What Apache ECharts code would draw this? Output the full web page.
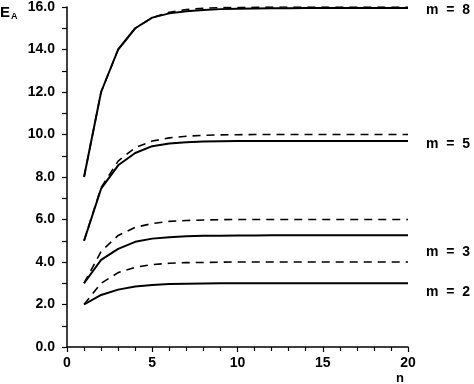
<!DOCTYPE html>
<html><head><meta charset="utf-8">
<script src="https://cdn.jsdelivr.net/npm/echarts@6/dist/echarts.min.js"></script>
<style>html,body{margin:0;padding:0;background:#fff}#c{width:474px;height:384px}</style>
</head><body><div id="c"></div>
<script>
const n = [1,2,3,4,5,6,7,8,9,10,11,12,13,14,15,16,17,18,19,20];
const m8Solid  = [8,12,14,15,15.5,15.7,15.8,15.86,15.9,15.92,15.93,15.94,15.94,15.95,15.95,15.95,15.95,15.95,15.95,15.95];
const m8Dashed = [8,12,14,15,15.5,15.75,15.88,15.94,15.97,15.98,15.99,16,16,16,16,16,16,16,16,16];
const m5Solid  = [5,7.45,8.55,9.13,9.45,9.58,9.64,9.67,9.68,9.69,9.7,9.7,9.7,9.7,9.7,9.7,9.7,9.7,9.7,9.7];
const m5Dashed = [5,7.5,8.75,9.38,9.69,9.84,9.92,9.96,9.98,9.99,10,10,10,10,10,10,10,10,10,10];
const m3Solid  = [3,4.1,4.62,4.95,5.1,5.17,5.21,5.23,5.24,5.25,5.25,5.26,5.26,5.26,5.26,5.26,5.26,5.26,5.26,5.26];
const m3Dashed = [3,4.5,5.25,5.63,5.81,5.91,5.95,5.98,5.99,6,6,6,6,6,6,6,6,6,6,6];
const m2Solid  = [2,2.45,2.7,2.85,2.92,2.96,2.98,2.99,3,3,3,3,3,3,3,3,3,3,3,3];
const m2Dashed = [2,3,3.5,3.75,3.88,3.94,3.97,3.98,3.99,4,4,4,4,4,4,4,4,4,4,4];
const labels = ['m  =  8','m  =  5','m  =  3','m  =  2'];

const font = 'Liberation Sans';
function pairs(v){ return n.map((x,i)=>[x,v[i]]); }
function solid(v, lab, dy){
  return {type:'line', data:pairs(v), symbol:'none', smooth:false,
    lineStyle:{color:'#000', width:2}, z:3,
    endLabel:{show:true, formatter:lab, offset:[10,dy], color:'#000',
      fontFamily:font, fontWeight:'bold', fontSize:14}};
}
function dashed(v){
  return {type:'line', data:pairs(v), symbol:'none',
    lineStyle:{color:'#000', width:1.6, type:[8,6]}, z:2};
}
const chart = echarts.init(document.getElementById('c'));
chart.setOption({
  animation:false,
  grid:{left:67, right:66, top:5, bottom:37},
  xAxis:{type:'value', min:0, max:20, interval:5,
    axisLine:{lineStyle:{color:'#000', width:1.5}},
    axisTick:{show:true, length:5, lineStyle:{color:'#000', width:1.2}},
    minorTick:{show:true, splitNumber:5, length:4, lineStyle:{color:'#000', width:1.2}},
    splitLine:{show:false},
    axisLabel:{color:'#000', fontFamily:font, fontWeight:'bold', fontSize:14, margin:9}},
  yAxis:{type:'value', min:0, max:16, interval:2,
    axisLine:{show:true, lineStyle:{color:'#000', width:1.5}},
    axisTick:{show:true, length:5, lineStyle:{color:'#000', width:1.2}},
    minorTick:{show:true, splitNumber:2, length:5, lineStyle:{color:'#000', width:1.2}},
    splitLine:{show:false},
    axisLabel:{color:'#000', fontFamily:font, fontWeight:'bold', fontSize:14, margin:12,
      formatter:v=>v.toFixed(1)}},
  graphic:[
    {type:'text', left:0, top:5, style:{text:'{e|E}{s|A}', rich:{
      e:{fontFamily:font, fontWeight:'bold', fontSize:15, fill:'#000'},
      s:{fontFamily:font, fontWeight:'bold', fontSize:9, fill:'#000', verticalAlign:'bottom', padding:[8,0,0,1]}}}},
    {type:'text', left:396, top:372, style:{text:'n', fontFamily:font, fontWeight:'bold', fontSize:13, fill:'#000'}}
  ],
  series:[
    dashed(m8Dashed), solid(m8Solid, labels[0], 2),
    dashed(m5Dashed), solid(m5Solid, labels[1], 3),
    dashed(m3Dashed), solid(m3Solid, labels[2], 17),
    dashed(m2Dashed), solid(m2Solid, labels[3], 9)
  ]
});
</script></body></html>
